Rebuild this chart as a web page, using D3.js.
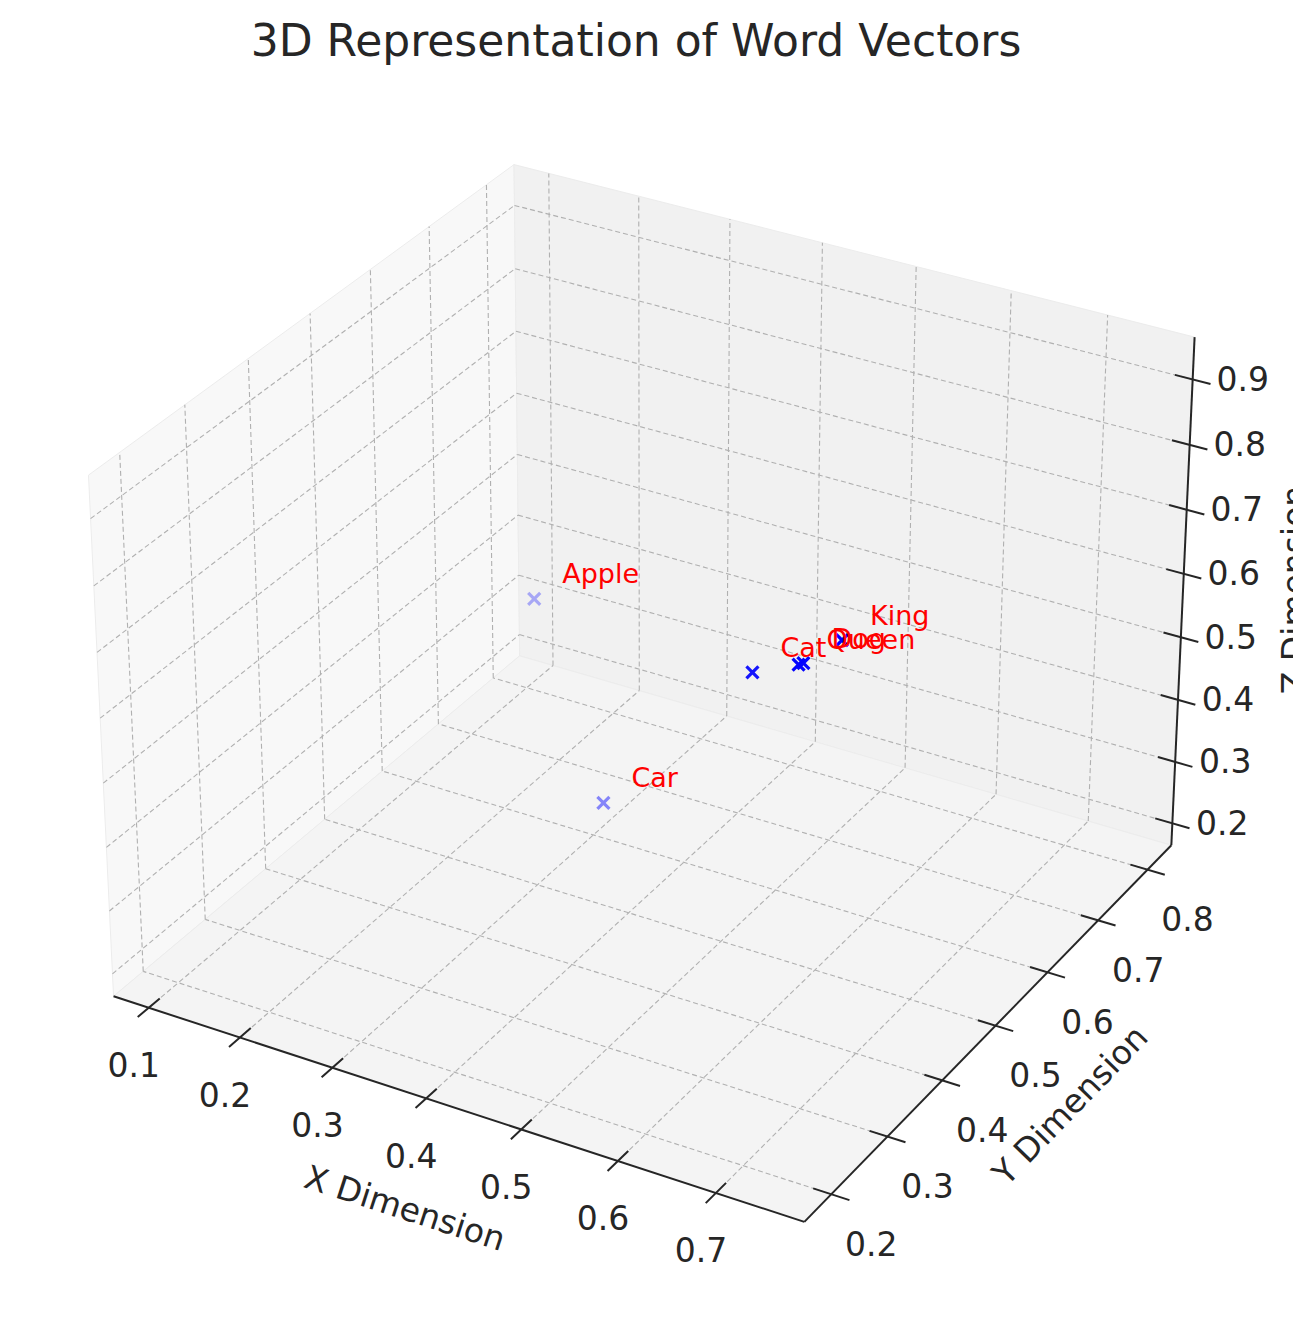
<!DOCTYPE html>
<html><head><meta charset="utf-8">
<script src="https://cdn.jsdelivr.net/npm/d3@7"></script>
<style>body{margin:0;background:#fff}svg{display:block}text{font-family:"DejaVu Sans",sans-serif;fill:#262626}</style>
</head><body>
<svg id="c" width="1293" height="1322"></svg>
<script>
const words = ["Apple","Car","Cat","Dog","Queen","King"];
const xs = [0.099, 0.299, 0.647, 0.72, 0.721, 0.756];
const ys = [0.817, 0.62, 0.30, 0.26, 0.25, 0.262];
const zs = [0.30, 0.20, 0.805, 0.88, 0.886, 0.927];
const xTicks = [0.1,0.2,0.3,0.4,0.5,0.6,0.7];
const yTicks = [0.2,0.3,0.4,0.5,0.6,0.7,0.8];
const zTicks = [0.2,0.3,0.4,0.5,0.6,0.7,0.8,0.9];
const xLim=[0.061,0.789], yLim=[0.153,0.849], zLim=[0.164,0.964];

const A=[1.19,1.19,0.893];
const fx=d3.scaleLinear().domain(xLim).range([0,A[0]]);
const fy=d3.scaleLinear().domain(yLim).range([0,A[1]]);
const fz=d3.scaleLinear().domain(zLim).range([0,A[2]]);
const el=30*Math.PI/180, az=-60*Math.PI/180, dist=10;
const w=[Math.cos(el)*Math.cos(az),Math.cos(el)*Math.sin(az),Math.sin(el)];
const u=[-w[1],w[0],0]; const un=Math.hypot(u[0],u[1]); u[0]/=un;u[1]/=un;
const v=[w[1]*u[2]-w[2]*u[1], w[2]*u[0]-w[0]*u[2], w[0]*u[1]-w[1]*u[0]];
const eye=[A[0]/2+dist*w[0],A[1]/2+dist*w[1],A[2]/2+dist*w[2]];
function raw(p){const d=[p[0]-eye[0],p[1]-eye[1],p[2]-eye[2]];
 const depth=-(d[0]*w[0]+d[1]*w[1]+d[2]*w[2]);
 return [(d[0]*u[0]+d[1]*u[1]+d[2]*u[2])/depth,(d[0]*v[0]+d[1]*v[1]+d[2]*v[2])/depth,depth];}
const fitPts=[[[0,0,0],[113,995]],[[1,0,0],[805,1222]],[[1,1,0],[1170,845]],[[1,1,1],[1195,337]],[[0,1,0],[520,660]],[[0,0,1],[88,472]],[[0,1,1],[515,165]]];
function lin(a,b){const ma=d3.mean(a),mb=d3.mean(b);let sxy=0,sxx=0;a.forEach((x,i)=>{sxy+=(x-ma)*(b[i]-mb);sxx+=(x-ma)**2});const k=sxy/sxx;return [k,mb-k*ma];}
const fr=fitPts.map(f=>raw([f[0][0]*A[0],f[0][1]*A[1],f[0][2]*A[2]]));
const sxS=d3.scaleLinear(), syS=d3.scaleLinear();
(function(){const [k1,b1]=lin(fr.map(r=>r[0]),fitPts.map(f=>f[1][0]));const [k2,b2]=lin(fr.map(r=>r[1]),fitPts.map(f=>f[1][1]));
 sxS.domain([0,1]).range([b1,b1+k1]); syS.domain([0,1]).range([b2,b2+k2]);})();
function P(x,y,z){const r=raw([fx(x),fy(y),fz(z)]);return [sxS(r[0]),syS(r[1]),r[2]];}

const svg=d3.select("#c");
const X0=xLim[0],X1=xLim[1],Y0=yLim[0],Y1=yLim[1],Z0=zLim[0],Z1=zLim[1];
const poly=pts=>pts.map(p=>P(...p)).map(q=>q[0]+","+q[1]).join(" ");
svg.append("polygon").attr("points",poly([[X0,Y0,Z0],[X0,Y1,Z0],[X0,Y1,Z1],[X0,Y0,Z1]])).attr("fill","#f8f8f8").attr("stroke","#ececec");
svg.append("polygon").attr("points",poly([[X0,Y1,Z0],[X1,Y1,Z0],[X1,Y1,Z1],[X0,Y1,Z1]])).attr("fill","#f1f1f1").attr("stroke","#ececec");
svg.append("polygon").attr("points",poly([[X0,Y0,Z0],[X1,Y0,Z0],[X1,Y1,Z0],[X0,Y1,Z0]])).attr("fill","#f4f4f4").attr("stroke","#ececec");
const g=svg.append("g");
function seg(a,b){const p=P(...a),q=P(...b);return g.append("line").attr("x1",p[0]).attr("y1",p[1]).attr("x2",q[0]).attr("y2",q[1]);}
const grid=(a,b)=>seg(a,b).attr("stroke","#b0b0b0").attr("stroke-width",1.1).attr("stroke-dasharray","5,3");
xTicks.forEach(t=>{grid([t,Y0,Z0],[t,Y1,Z0]);grid([t,Y1,Z0],[t,Y1,Z1]);});
yTicks.forEach(t=>{grid([X1,t,Z0],[X0,t,Z0]);grid([X0,t,Z0],[X0,t,Z1]);});
zTicks.forEach(t=>{grid([X0,Y0,t],[X0,Y1,t]);grid([X0,Y1,t],[X1,Y1,t]);});
const ax=(a,b)=>seg(a,b).attr("stroke","#262626").attr("stroke-width",2);
ax([X0,Y0,Z0],[X1,Y0,Z0]); ax([X1,Y0,Z0],[X1,Y1,Z0]); ax([X1,Y1,Z0],[X1,Y1,Z1]);
const dy=(Y1-Y0)*0.025, dx=(X1-X0)*0.025;
const lab=(p,t,o)=>svg.append("text").attr("x",p[0]+o[0]).attr("y",p[1]+o[1]).attr("text-anchor","middle").attr("dominant-baseline","central").attr("font-size",33).text(t);
xTicks.forEach(t=>{ax([t,Y0+dy,Z0],[t,Y0-dy,Z0]);lab(P(t,Y0,Z0),t.toFixed(1),[-15,58]);});
yTicks.forEach(t=>{ax([X1-dx,t,Z0],[X1+dx,t,Z0]);lab(P(X1,t,Z0),t.toFixed(1),[40,50]);});
zTicks.forEach(t=>{ax([X1-dx,Y1,t],[X1+dx,Y1,t]);lab(P(X1,Y1,t),t.toFixed(1),[50,0]);});
svg.append("text").attr("transform","translate(405,1208) rotate(18)").attr("text-anchor","middle").attr("dominant-baseline","central").attr("font-size",33).text("X Dimension");
svg.append("text").attr("transform","translate(1070,1105) rotate(-46)").attr("text-anchor","middle").attr("dominant-baseline","central").attr("font-size",33).text("Y Dimension");
svg.append("text").attr("transform","translate(1294,590) rotate(-90)").attr("text-anchor","middle").attr("dominant-baseline","central").attr("font-size",33).text("Z Dimension");
svg.append("text").attr("x",636).attr("y",40).attr("text-anchor","middle").attr("dominant-baseline","central").attr("font-size",44).text("3D Representation of Word Vectors");
const pts=words.map((wd,i)=>({wd,p:P(xs[i],ys[i],zs[i])}));
const alpha=d3.scaleLinear().domain(d3.extent(pts,d=>d.p[2])).range([1,0.3]);
pts.slice().sort((a,b)=>b.p[2]-a.p[2]).forEach(d=>{const [x,y]=d.p,s=6;
 svg.append("path").attr("d",`M${x-s},${y-s}L${x+s},${y+s}M${x-s},${y+s}L${x+s},${y-s}`).attr("stroke","blue").attr("stroke-width",3.2).attr("opacity",alpha(d.p[2]));});
pts.forEach(d=>svg.append("text").attr("x",d.p[0]+28).attr("y",d.p[1]-25).attr("dominant-baseline","central").attr("font-size",27).style("fill","red").text(d.wd));
</script></body></html>
